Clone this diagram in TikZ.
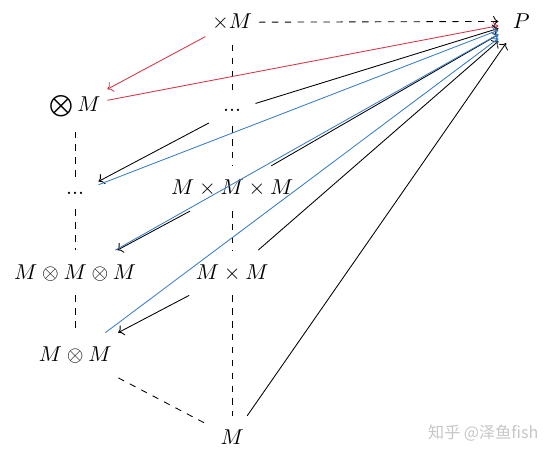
\documentclass[tikz,border=0pt]{standalone}
\usepackage{amsmath}
\usepackage{tikz-cd}
\usepackage{fontspec}
\newfontfamily\zhfont{Noto Sans CJK SC}
\definecolor{redarr}{RGB}{214,52,72}
\definecolor{bluearr}{RGB}{58,126,198}

\begin{document}
\begin{tikzpicture}[>={cm to},
    cell/.style={anchor=base, inner sep=0.65em}]
        \useasboundingbox (0,0) rectangle (9.10,7.48);
        % left column: tensor products, middle column: products
        \node[cell, inner xsep=0.3em] (tM) at (3.80,7.01) {$\times M$};
        \node[cell] (P) at (8.53,7.01) {$P$};
        \node[cell, inner xsep=0.3em] (oM) at (1.23,5.65) {$\bigotimes M$};
        \node[cell] (tdots) at (3.80,5.65) {$...$};
        \node[cell] (odots) at (1.23,4.29) {$...$};
        \node[cell] (tMMM) at (3.80,4.29) {$M \times M \times M$};
        \node[cell] (oMMM) at (1.23,2.91) {$M \otimes M \otimes M$};
        \node[cell] (tMM) at (3.80,2.91) {$M \times M$};
        \node[cell] (oMM) at (1.23,1.56) {$M \otimes M$};
        \node[cell] (M) at (3.80,0.20) {$M$};
        \draw[dashed,->] (tM) -- (P);
        \draw[dashed] (tM) -- (tdots);
        \draw[dashed] (tdots) -- (tMMM);
        \draw[dashed] (tMMM) -- (tMM);
        \draw[dashed] (tMM) -- (M);
        \draw[dashed] (oM) -- (odots);
        \draw[dashed] (odots) -- (oMMM);
        \draw[dashed] (oMMM) -- (oMM);
        \draw[dashed] (oMM) -- (M);
        \draw[->,redarr] (tM) -- (oM);
        \draw[->,redarr] (oM) -- (P);
        \draw[->] (tdots) -- (odots);
        \draw[->] (tdots) -- (P);
        \draw[->] (tMMM) -- (oMMM);
        \draw[->] (tMMM) -- (P);
        \draw[->] (tMM) -- (oMM);
        \draw[->] (tMM) -- (P);
        \draw[->] (M) -- (P);
        \draw[->,bluearr] (odots) -- (P);
        \draw[->,bluearr] (oMMM) -- (P);
        \draw[->,bluearr] (oMM) -- (P);
        \node[text=gray!45, font=\zhfont\fontsize{7.5}{9}\selectfont] (mark) at (7.91,0.39) {知乎 @泽鱼fish};
      \end{tikzpicture}
\end{document}
